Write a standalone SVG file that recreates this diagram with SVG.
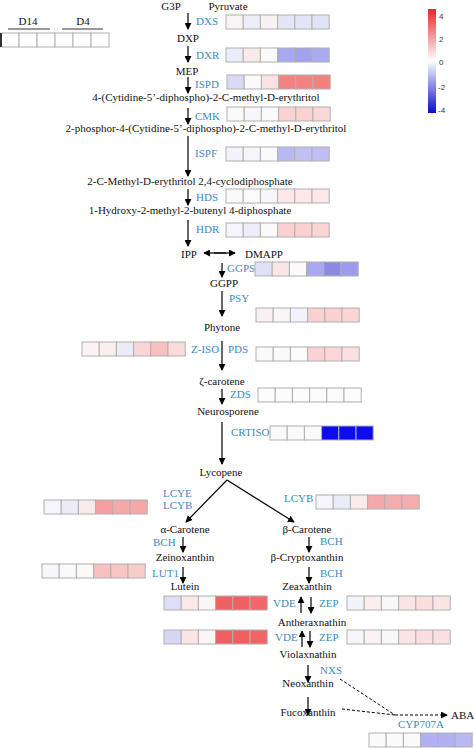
<svg xmlns="http://www.w3.org/2000/svg" width="474" height="748" viewBox="0 0 474 748">
<defs>
<marker id="ah" viewBox="0 0 8 8" refX="7" refY="4" markerWidth="7" markerHeight="7" markerUnits="userSpaceOnUse" orient="auto">
<path d="M0,0 L8,4 L0,8 Z" fill="#000"/>
</marker>
<linearGradient id="cbar" x1="0" y1="0" x2="0" y2="1">
<stop offset="0" stop-color="#e8262a"/>
<stop offset="0.5" stop-color="#ffffff"/>
<stop offset="1" stop-color="#0c0cc8"/>
</linearGradient>
<style>
.t{font-family:"Liberation Serif","Times New Roman",serif;font-size:11px;fill:#111}
.tm{text-anchor:middle}
.e{font-family:"Liberation Serif","Times New Roman",serif;font-size:11px;fill:#3b8bbd}
.c rect{stroke:#b0b0b0;stroke-width:1}
.a{stroke:#000;stroke-width:1.2;fill:none;marker-end:url(#ah)}
.d{stroke:#000;stroke-width:1;fill:none;stroke-dasharray:3,2}
.lg{font-family:"Liberation Sans",Arial,sans-serif;font-size:8px;fill:#333}
</style>
</defs>
<rect width="474" height="748" fill="#fff"/>

<g id="key">
<text class="t tm" x="28" y="25" font-size="9.5">D14</text>
<text class="t tm" x="83" y="25" font-size="9.5">D4</text>
<line x1="8" y1="29" x2="50" y2="29" stroke="#333"/>
<line x1="62" y1="29" x2="103" y2="29" stroke="#333"/>
<g class="c" fill="#fff">
<rect x="1" y="33" width="18" height="14"/><rect x="19" y="33" width="18" height="14"/><rect x="37" y="33" width="18" height="14"/><rect x="55" y="33" width="18" height="14"/><rect x="73" y="33" width="18" height="14"/><rect x="91" y="33" width="18" height="14"/>
</g>
<rect x="0" y="33" width="2" height="14" fill="#333"/>
</g>

<g id="legend">
<rect x="428" y="9" width="8" height="104" fill="url(#cbar)"/>
<text class="lg" x="439" y="19">4</text>
<text class="lg" x="439" y="42">2</text>
<text class="lg" x="439" y="65">0</text>
<text class="lg" x="438" y="90">-2</text>
<text class="lg" x="438" y="113">-4</text>
</g>

<g id="connectors">
<line class="a" x1="188" y1="13" x2="188" y2="29"/>
<line class="a" x1="188" y1="46" x2="188" y2="62"/>
<line class="a" x1="188" y1="77" x2="188" y2="93"/>
<line class="a" x1="188" y1="108" x2="188" y2="124"/>
<line class="a" x1="188" y1="136" x2="188" y2="176"/>
<line class="a" x1="188" y1="189" x2="188" y2="205"/>
<line class="a" x1="188" y1="220" x2="188" y2="246"/>
<line class="a" x1="214" y1="253" x2="235" y2="253"/>
<line class="a" x1="226" y1="253" x2="204" y2="253"/>
<line class="a" x1="222" y1="263" x2="222" y2="277"/>
<line class="a" x1="222" y1="291" x2="222" y2="316"/>
<line class="a" x1="222" y1="341" x2="222" y2="370"/>
<line class="a" x1="222" y1="389" x2="222" y2="404"/>
<line class="a" x1="222" y1="422" x2="222" y2="464"/>
<line class="a" x1="227" y1="480" x2="186" y2="522"/>
<line class="a" x1="227" y1="480" x2="294" y2="522"/>
<line class="a" x1="183" y1="537" x2="183" y2="552"/>
<line class="a" x1="183" y1="567" x2="183" y2="583"/>
<line class="a" x1="309" y1="537" x2="309" y2="552"/>
<line class="a" x1="309" y1="567" x2="309" y2="583"/>
<line class="a" x1="301" y1="613" x2="301" y2="597"/>
<line class="a" x1="311" y1="597" x2="311" y2="613"/>
<line class="a" x1="302" y1="647" x2="302" y2="631"/>
<line class="a" x1="310" y1="631" x2="310" y2="647"/>
<line class="a" x1="308" y1="665" x2="308" y2="682"/>
<line class="a" x1="308" y1="697" x2="308" y2="715"/>
<line class="d" x1="340" y1="679" x2="395" y2="715"/>
<line class="d" x1="342" y1="709" x2="395" y2="715"/>
<line class="d" x1="395" y1="715" x2="447" y2="715" marker-end="url(#ah)"/>
</g>

<g id="metabolites">
<text class="t tm" x="171" y="10">G3P</text>
<text class="t tm" x="228" y="10">Pyruvate</text>
<text class="t tm" x="188" y="42">DXP</text>
<text class="t tm" x="187" y="75">MEP</text>
<text class="t tm" x="206" y="101" font-size="9.1">4-(Cytidine-5’-diphospho)-2-C-methyl-D-erythritol</text>
<text class="t tm" x="206" y="132" font-size="9.1">2-phosphor-4-(Cytidine-5’-diphospho)-2-C-methyl-D-erythritol</text>
<text class="t tm" x="190" y="185" font-size="10">2-C-Methyl-D-erythritol 2,4-cyclodiphosphate</text>
<text class="t tm" x="190" y="214" font-size="10">1-Hydroxy-2-methyl-2-butenyl 4-diphosphate</text>
<text class="t tm" x="189" y="258">IPP</text>
<text class="t tm" x="264" y="258">DMAPP</text>
<text class="t tm" x="224" y="287">GGPP</text>
<text class="t tm" x="222" y="331">Phytone</text>
<text class="t tm" x="222" y="385">ζ-carotene</text>
<text class="t tm" x="228" y="415">Neurosporene</text>
<text class="t tm" x="221" y="476">Lycopene</text>
<text class="t tm" x="185" y="533">α-Carotene</text>
<text class="t tm" x="185" y="561">Zeinoxanthin</text>
<text class="t tm" x="185" y="590">Lutein</text>
<text class="t tm" x="307" y="533">β-Carotene</text>
<text class="t tm" x="307" y="561">β-Cryptoxanthin</text>
<text class="t tm" x="307" y="590">Zeaxanthin</text>
<text class="t tm" x="312" y="626">Antheraxnathin</text>
<text class="t tm" x="308" y="658">Violaxnathin</text>
<text class="t tm" x="308" y="687">Neoxanthin</text>
<text class="t tm" x="308" y="716">Fucoxanthin</text>
<text class="t" x="451" y="719" font-size="10">ABA</text>
</g>

<g id="enzymes">
<text class="e" x="196" y="25">DXS</text>
<text class="e" x="196" y="59">DXR</text>
<text class="e" x="195" y="88">ISPD</text>
<text class="e" x="195" y="120">CMK</text>
<text class="e" x="195" y="157">ISPF</text>
<text class="e" x="196" y="201">HDS</text>
<text class="e" x="196" y="233">HDR</text>
<text class="e" x="227" y="272">GGPS</text>
<text class="e" x="229" y="302">PSY</text>
<text class="e" x="191" y="353">Z-ISO</text>
<text class="e" x="228" y="353">PDS</text>
<text class="e" x="230" y="398">ZDS</text>
<text class="e" x="231" y="436">CRTISO</text>
<text class="e" x="163" y="497">LCYE</text>
<text class="e" x="163" y="509">LCYB</text>
<text class="e" x="284" y="502">LCYB</text>
<text class="e" x="153" y="546">BCH</text>
<text class="e" x="152" y="577">LUT1</text>
<text class="e" x="320" y="545">BCH</text>
<text class="e" x="320" y="577">BCH</text>
<text class="e" x="273" y="607">VDE</text>
<text class="e" x="319" y="607">ZEP</text>
<text class="e" x="275" y="641">VDE</text>
<text class="e" x="319" y="641">ZEP</text>
<text class="e" x="320" y="674">NXS</text>
<text class="e" x="398" y="728">CYP707A</text>
</g>

<g id="hm-DXS" class="c" transform="translate(226,15)">
<rect x="0" width="17.2" height="14" fill="#f9f5f6"/><rect x="17.2" width="17.2" height="14" fill="#eeeef9"/><rect x="34.4" width="17.2" height="14" fill="#f8f3f3"/><rect x="51.6" width="17.2" height="14" fill="#e5e5f8"/><rect x="68.8" width="17.2" height="14" fill="#e5e5f8"/><rect x="86" width="17.2" height="14" fill="#e2e2f7"/>
</g>
<g id="hm-DXR" class="c" transform="translate(226,48)">
<rect x="0" width="17.2" height="14" fill="#ebebf9"/><rect x="17.2" width="17.2" height="14" fill="#fbe9e9"/><rect x="34.4" width="17.2" height="14" fill="#fafafa"/><rect x="51.6" width="17.2" height="14" fill="#a8a8f0"/><rect x="68.8" width="17.2" height="14" fill="#a2a2ef"/><rect x="86" width="17.2" height="14" fill="#aaaaf0"/>
</g>
<g id="hm-ISPD" class="c" transform="translate(227,75)">
<rect x="0" width="17.2" height="14" fill="#dadaf6"/><rect x="17.2" width="17.2" height="14" fill="#fafafa"/><rect x="34.4" width="17.2" height="14" fill="#fbe2e2"/><rect x="51.6" width="17.2" height="14" fill="#f48282"/><rect x="68.8" width="17.2" height="14" fill="#f48282"/><rect x="86" width="17.2" height="14" fill="#f48080"/>
</g>
<g id="hm-CMK" class="c" transform="translate(227,107)">
<rect x="0" width="17.2" height="14" fill="#fafafa"/><rect x="17.2" width="17.2" height="14" fill="#f5f5fa"/><rect x="34.4" width="17.2" height="14" fill="#fafafa"/><rect x="51.6" width="17.2" height="14" fill="#fbd2d2"/><rect x="68.8" width="17.2" height="14" fill="#fbd2d2"/><rect x="86" width="17.2" height="14" fill="#fbd8d8"/>
</g>
<g id="hm-ISPF" class="c" transform="translate(226,147)">
<rect x="0" width="17.2" height="14" fill="#f3f3fa"/><rect x="17.2" width="17.2" height="14" fill="#f6f6fa"/><rect x="34.4" width="17.2" height="14" fill="#fafafa"/><rect x="51.6" width="17.2" height="14" fill="#b8b8f2"/><rect x="68.8" width="17.2" height="14" fill="#c0c0f3"/><rect x="86" width="17.2" height="14" fill="#bfbff3"/>
</g>
<g id="hm-HDS" class="c" transform="translate(226,189)">
<rect x="0" width="17.2" height="14" fill="#fafafa"/><rect x="17.2" width="17.2" height="14" fill="#fbfbfb"/><rect x="34.4" width="17.2" height="14" fill="#f7f7fb"/><rect x="51.6" width="17.2" height="14" fill="#fde8e8"/><rect x="68.8" width="17.2" height="14" fill="#fde8e8"/><rect x="86" width="17.2" height="14" fill="#fde8e8"/>
</g>
<g id="hm-HDR" class="c" transform="translate(226,223)">
<rect x="0" width="17.2" height="14" fill="#f5f5fb"/><rect x="17.2" width="17.2" height="14" fill="#ededf9"/><rect x="34.4" width="17.2" height="14" fill="#fafafa"/><rect x="51.6" width="17.2" height="14" fill="#fbd0d0"/><rect x="68.8" width="17.2" height="14" fill="#fbd0d0"/><rect x="86" width="17.2" height="14" fill="#fbd4d4"/>
</g>
<g id="hm-GGPS" class="c" transform="translate(255,262)">
<rect x="0" width="17.2" height="14" fill="#e0e0f8"/><rect x="17.2" width="17.2" height="14" fill="#fbe6e6"/><rect x="34.4" width="17.2" height="14" fill="#fcfaf8"/><rect x="51.6" width="17.2" height="14" fill="#a8a8f0"/><rect x="68.8" width="17.2" height="14" fill="#8a8ae0"/><rect x="86" width="17.2" height="14" fill="#9c9cee"/>
</g>
<g id="hm-PSY" class="c" transform="translate(256,308)">
<rect x="0" width="17.2" height="14" fill="#f8f0f2"/><rect x="17.2" width="17.2" height="14" fill="#faf4f4"/><rect x="34.4" width="17.2" height="14" fill="#f2f2fa"/><rect x="51.6" width="17.2" height="14" fill="#fbd0d0"/><rect x="68.8" width="17.2" height="14" fill="#fbd0d0"/><rect x="86" width="17.2" height="14" fill="#fbd4d4"/>
</g>
<g id="hm-PDS" class="c" transform="translate(256,347)">
<rect x="0" width="17.2" height="14" fill="#fafafa"/><rect x="17.2" width="17.2" height="14" fill="#fafafa"/><rect x="34.4" width="17.2" height="14" fill="#fdfafa"/><rect x="51.6" width="17.2" height="14" fill="#fbd2d2"/><rect x="68.8" width="17.2" height="14" fill="#fcd6d6"/><rect x="86" width="17.2" height="14" fill="#fde0e0"/>
</g>
<g id="hm-ZISO" class="c" transform="translate(82,342)">
<rect x="0" width="17.2" height="14" fill="#fbf2f3"/><rect x="17.2" width="17.2" height="14" fill="#fbeeee"/><rect x="34.4" width="17.2" height="14" fill="#ececf9"/><rect x="51.6" width="17.2" height="14" fill="#fbd5d5"/><rect x="68.8" width="17.2" height="14" fill="#f8c0c0"/><rect x="86" width="17.2" height="14" fill="#fbdada"/>
</g>
<g id="hm-ZDS" class="c" transform="translate(258,388)">
<rect x="0" width="17.2" height="14" fill="#fcfcfc"/><rect x="17.2" width="17.2" height="14" fill="#fcfcfc"/><rect x="34.4" width="17.2" height="14" fill="#fcfcfc"/><rect x="51.6" width="17.2" height="14" fill="#fcfafa"/><rect x="68.8" width="17.2" height="14" fill="#fcfafa"/><rect x="86" width="17.2" height="14" fill="#fcfafa"/>
</g>
<g id="hm-CRTISO" class="c" transform="translate(270,426)">
<rect x="0" width="17.2" height="14" fill="#fafafa"/><rect x="17.2" width="17.2" height="14" fill="#fafafa"/><rect x="34.4" width="17.2" height="14" fill="#fafafa"/><rect x="51.6" width="17.2" height="14" fill="#0c0cee"/><rect x="68.8" width="17.2" height="14" fill="#0c0cee"/><rect x="86" width="17.2" height="14" fill="#0c0cee"/>
</g>
<g id="hm-LCYE" class="c" transform="translate(44,500)">
<rect x="0" width="17.2" height="14" fill="#f5f5fb"/><rect x="17.2" width="17.2" height="14" fill="#ececf9"/><rect x="34.4" width="17.2" height="14" fill="#fbeaea"/><rect x="51.6" width="17.2" height="14" fill="#f5a0a0"/><rect x="68.8" width="17.2" height="14" fill="#f5a8a8"/><rect x="86" width="17.2" height="14" fill="#f5a8a8"/>
</g>
<g id="hm-LUT1" class="c" transform="translate(42,564)">
<rect x="0" width="17.2" height="14" fill="#f7f7fb"/><rect x="17.2" width="17.2" height="14" fill="#fafafa"/><rect x="34.4" width="17.2" height="14" fill="#fafafa"/><rect x="51.6" width="17.2" height="14" fill="#f8c0c0"/><rect x="68.8" width="17.2" height="14" fill="#f8c4c4"/><rect x="86" width="17.2" height="14" fill="#f9cccc"/>
</g>
<g id="hm-LCYB" class="c" transform="translate(316,495)">
<rect x="0" width="17.2" height="14" fill="#f5f5fb"/><rect x="17.2" width="17.2" height="14" fill="#ececf9"/><rect x="34.4" width="17.2" height="14" fill="#fbecec"/><rect x="51.6" width="17.2" height="14" fill="#f5a8a8"/><rect x="68.8" width="17.2" height="14" fill="#f5acac"/><rect x="86" width="17.2" height="14" fill="#f5acac"/>
</g>
<g id="hm-VDE1" class="c" transform="translate(164,596)">
<rect x="0" width="17.2" height="14" fill="#dedef8"/><rect x="17.2" width="17.2" height="14" fill="#fbe8e8"/><rect x="34.4" width="17.2" height="14" fill="#fbf5f5"/><rect x="51.6" width="17.2" height="14" fill="#f06262"/><rect x="68.8" width="17.2" height="14" fill="#f06262"/><rect x="86" width="17.2" height="14" fill="#f06868"/>
</g>
<g id="hm-ZEP1" class="c" transform="translate(347,596)">
<rect x="0" width="17.2" height="14" fill="#f3f3fa"/><rect x="17.2" width="17.2" height="14" fill="#fbeeee"/><rect x="34.4" width="17.2" height="14" fill="#f8f8fb"/><rect x="51.6" width="17.2" height="14" fill="#fbe4e4"/><rect x="68.8" width="17.2" height="14" fill="#fbdede"/><rect x="86" width="17.2" height="14" fill="#fbe4e4"/>
</g>
<g id="hm-VDE2" class="c" transform="translate(164,630)">
<rect x="0" width="17.2" height="14" fill="#d6d6f5"/><rect x="17.2" width="17.2" height="14" fill="#fbe4e4"/><rect x="34.4" width="17.2" height="14" fill="#fbf5f5"/><rect x="51.6" width="17.2" height="14" fill="#f06060"/><rect x="68.8" width="17.2" height="14" fill="#f06060"/><rect x="86" width="17.2" height="14" fill="#f06464"/>
</g>
<g id="hm-ZEP2" class="c" transform="translate(347,630)">
<rect x="0" width="17.2" height="14" fill="#f5f5fb"/><rect x="17.2" width="17.2" height="14" fill="#fbf3f3"/><rect x="34.4" width="17.2" height="14" fill="#f8f8fb"/><rect x="51.6" width="17.2" height="14" fill="#fbe4e4"/><rect x="68.8" width="17.2" height="14" fill="#fbdede"/><rect x="86" width="17.2" height="14" fill="#fbe0e0"/>
</g>
<g id="hm-CYP707A" class="c" transform="translate(369,733)">
<rect x="0" width="17.2" height="14" fill="#fafafa"/><rect x="17.2" width="17.2" height="14" fill="#fafafa"/><rect x="34.4" width="17.2" height="14" fill="#fafafa"/><rect x="51.6" width="17.2" height="14" fill="#b0b0f2"/><rect x="68.8" width="17.2" height="14" fill="#b0b0f2"/><rect x="86" width="17.2" height="14" fill="#b8b8f3"/>
</g>
</svg>
